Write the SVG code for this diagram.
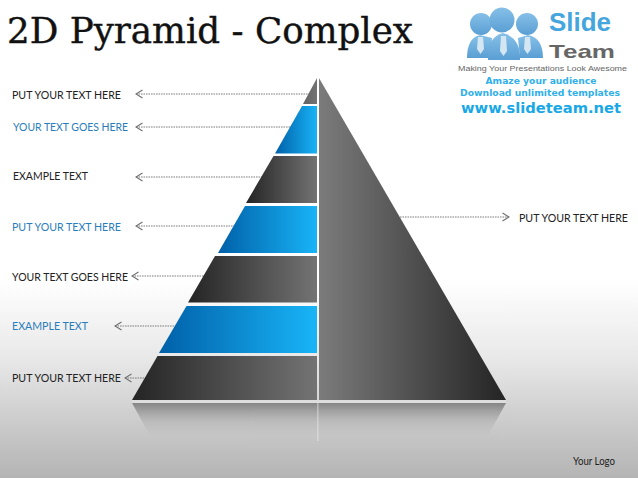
<svg xmlns="http://www.w3.org/2000/svg" width="638" height="478" viewBox="0 0 638 478">
<style>
.l{font-family:Lato,"Open Sans",sans-serif;font-size:11.5px;fill:#222}
.b{fill:#2a7dbb}
.c{fill:none;stroke:#707070;stroke-width:.9;stroke-dasharray:1.6 .9}
.body{fill:url(#person)}
.tie{fill:#d5e6f3}
</style>
<defs>
<linearGradient id="bg" gradientUnits="userSpaceOnUse" x1="0" y1="280" x2="0" y2="478"><stop offset="0" stop-color="#fff"/><stop offset=".4" stop-color="#e8e8e8"/><stop offset=".7" stop-color="#cdcdcd"/><stop offset="1" stop-color="#b4b4b4"/></linearGradient>
<linearGradient id="dark" gradientUnits="userSpaceOnUse" x1="132" y1="0" x2="318" y2="0"><stop offset="0" stop-color="#242424"/><stop offset="1" stop-color="#747474"/></linearGradient>
<linearGradient id="blue" gradientUnits="userSpaceOnUse" x1="160" y1="0" x2="318" y2="0"><stop offset="0" stop-color="#0060a8"/><stop offset="1" stop-color="#19b5f8"/></linearGradient>
<linearGradient id="dark2" gradientUnits="userSpaceOnUse" x1="246" y1="0" x2="318" y2="0"><stop offset="0" stop-color="#242424"/><stop offset="1" stop-color="#747474"/></linearGradient>
<linearGradient id="dark3" gradientUnits="userSpaceOnUse" x1="188" y1="0" x2="318" y2="0"><stop offset="0" stop-color="#242424"/><stop offset="1" stop-color="#747474"/></linearGradient>
<linearGradient id="blue2" gradientUnits="userSpaceOnUse" x1="218" y1="0" x2="318" y2="0"><stop offset="0" stop-color="#0060a8"/><stop offset="1" stop-color="#19b5f8"/></linearGradient>
<linearGradient id="blue3" gradientUnits="userSpaceOnUse" x1="275" y1="0" x2="318" y2="0"><stop offset="0" stop-color="#0060a8"/><stop offset="1" stop-color="#19b5f8"/></linearGradient>
<linearGradient id="right" gradientUnits="userSpaceOnUse" x1="318" y1="0" x2="506" y2="0"><stop offset="0" stop-color="#7c7c7c"/><stop offset="1" stop-color="#242424"/></linearGradient>
<linearGradient id="refl" x1="0" y1="0" x2="0" y2="1"><stop offset="0" stop-color="#707070" stop-opacity=".8"/><stop offset=".5" stop-color="#a8a8a8" stop-opacity=".45"/><stop offset="1" stop-color="#c4c4c4" stop-opacity="0"/></linearGradient>
<linearGradient id="person" x1="0" y1="0" x2="0" y2="1"><stop offset="0" stop-color="#86c0e8"/><stop offset="1" stop-color="#5a9fd4"/></linearGradient>
<marker id="arrow" markerUnits="userSpaceOnUse" viewBox="0 0 9 10" refX="1" refY="5" markerWidth="9" markerHeight="10" orient="auto"><path d="M7.500 1 1 5l6.500 4" fill="none" stroke="#707070" stroke-width="1.100"/></marker>
<marker id="arrowEnd" markerUnits="userSpaceOnUse" viewBox="0 0 9 10" refX="8" refY="5" markerWidth="9" markerHeight="10" orient="auto"><path d="M1.500 1 8 5 1.500 9" fill="none" stroke="#707070" stroke-width="1.100"/></marker>
</defs>
<rect id="background" width="638" height="478" fill="url(#bg)"/>
<text id="title" x="7" y="43" font-family="'DejaVu Serif','Liberation Serif',serif" font-size="35" fill="#111" stroke="#111" stroke-width=".4" textLength="406" lengthAdjust="spacingAndGlyphs">2D Pyramid - Complex</text>

<g id="reflection">
<polygon points="132,403 506,403 485,441 153,441" fill="url(#refl)"/>
<rect x="317" y="403" width="1.600" height="38" fill="#e6e6e6" opacity=".5"/>
</g>

<g id="connectors">
<path class="c" d="M136 94H310" marker-start="url(#arrow)"/>
<path class="c" d="M136 127H295" marker-start="url(#arrow)"/>
<path class="c" d="M136 177H265" marker-start="url(#arrow)"/>
<path class="c" d="M136 226H236" marker-start="url(#arrow)"/>
<path class="c" d="M132 276H208" marker-start="url(#arrow)"/>
<path class="c" d="M115 326H178" marker-start="url(#arrow)"/>
<path class="c" d="M125 378H150" marker-start="url(#arrow)"/>
<path class="c" d="M395 217H509" marker-end="url(#arrowEnd)"/>
</g>

<g id="pyramid-right"><polygon points="319,78 506,400 319,400" fill="url(#right)"/></g>
<g id="tier-1"><polygon points="317,78 317,104 303,104" fill="url(#dark2)"/></g>
<g id="tier-2"><polygon points="317,106 317,153.500 275,153.500 302,106" fill="url(#blue3)"/></g>
<g id="tier-3"><polygon points="317,156 317,203 246,203 273.500,156" fill="url(#dark2)"/></g>
<g id="tier-4"><polygon points="317,206 317,253 218,253 245,206" fill="url(#blue2)"/></g>
<g id="tier-5"><polygon points="317,256 317,302.500 188,302.500 215,256" fill="url(#dark3)"/></g>
<g id="tier-6"><polygon points="317,306 317,353 159,353 186.500,306" fill="url(#blue)"/></g>
<g id="tier-7"><polygon points="317,356 317,400 132,400 157.500,356" fill="url(#dark)"/></g>
<rect id="base-line" x="132" y="400" width="374" height="3" fill="#dedede"/>

<g id="label-1"><text class="l" x="12" y="98.500" textLength="109" lengthAdjust="spacingAndGlyphs">PUT YOUR TEXT HERE</text></g>
<g id="label-2"><text class="l b" x="13" y="131" textLength="115" lengthAdjust="spacingAndGlyphs">YOUR TEXT GOES HERE</text></g>
<g id="label-3"><text class="l" x="13" y="180" textLength="75" lengthAdjust="spacingAndGlyphs">EXAMPLE TEXT</text></g>
<g id="label-4"><text class="l b" x="12" y="231" textLength="109" lengthAdjust="spacingAndGlyphs">PUT YOUR TEXT HERE</text></g>
<g id="label-5"><text class="l" x="12" y="281" textLength="116" lengthAdjust="spacingAndGlyphs">YOUR TEXT GOES HERE</text></g>
<g id="label-6"><text class="l b" x="12" y="330" textLength="76" lengthAdjust="spacingAndGlyphs">EXAMPLE TEXT</text></g>
<g id="label-7"><text class="l" x="12" y="382" textLength="109" lengthAdjust="spacingAndGlyphs">PUT YOUR TEXT HERE</text></g>
<g id="label-8"><text class="l" x="519" y="222" textLength="109" lengthAdjust="spacingAndGlyphs">PUT YOUR TEXT HERE</text></g>
<g id="logo-text"><text x="573" y="465" font-family="Lato,'Open Sans',sans-serif" font-size="11" fill="#222" textLength="42" lengthAdjust="spacingAndGlyphs">Your Logo</text></g>

<g id="logo">
<circle cx="481" cy="24" r="11" class="body"/>
<circle cx="527" cy="24" r="11" class="body"/>
<path class="body" d="M467 58Q467 38 480 35L492 38 490 58Z"/>
<path class="body" d="M518 38 528 35Q543 38 543 58H520Z"/>
<circle cx="502" cy="20" r="12.500" class="body"/>
<path class="body" d="M488 60Q486 38 503 33Q521 38 520 60Z"/>
<path class="tie" d="M501 36H506L507 51 503.500 56 500 51Z"/>
<path class="tie" d="M478 37H483L484 49 480.500 54 477 49Z"/>
<path class="tie" d="M525 37H530L531 49 527.500 54 524 49Z"/>
<text x="549" y="31" font-family="'Liberation Sans',sans-serif" font-weight="700" font-size="25" fill="#45a6dd" textLength="62" lengthAdjust="spacingAndGlyphs">Slide</text>
<text x="549" y="58" font-family="'Liberation Sans',sans-serif" font-weight="700" font-size="19" fill="#666" textLength="66" lengthAdjust="spacingAndGlyphs">Team</text>
<text x="458" y="70.500" font-family="'Liberation Sans',sans-serif" font-size="8" fill="#666" textLength="169" lengthAdjust="spacingAndGlyphs">Making Your Presentations Look Awesome</text>
<text x="541" y="84" text-anchor="middle" font-family="'DejaVu Sans',sans-serif" font-weight="700" font-size="8.500" fill="#2fb0e8" textLength="111" lengthAdjust="spacingAndGlyphs">Amaze your audience</text>
<text x="540" y="96" text-anchor="middle" font-family="'DejaVu Sans',sans-serif" font-weight="700" font-size="8.500" fill="#2fb0e8" textLength="160" lengthAdjust="spacingAndGlyphs">Download unlimited templates</text>
<text x="541" y="112.500" text-anchor="middle" font-family="'DejaVu Sans',sans-serif" font-weight="700" font-size="14" fill="#19a8e6" textLength="160" lengthAdjust="spacingAndGlyphs">www.slideteam.net</text>
</g>
</svg>
